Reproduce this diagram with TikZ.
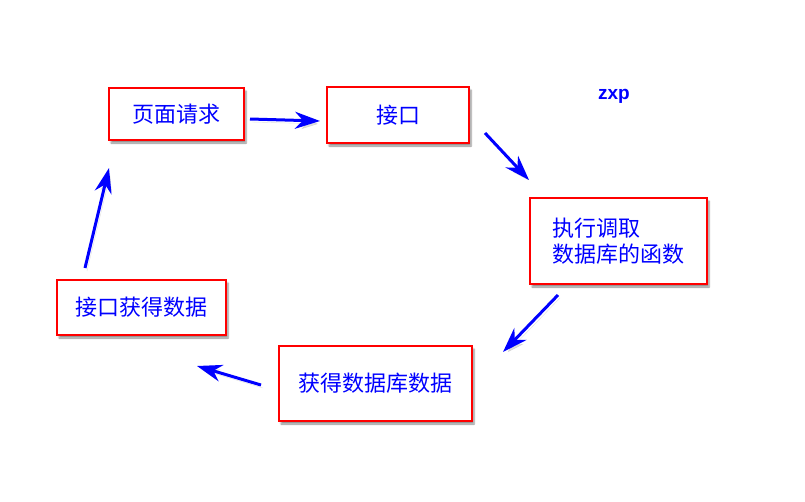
\documentclass[tikz,border=0pt]{standalone}
\usepackage{fontspec}
\setsansfont{Liberation Sans}
\newfontfamily\cjk{Noto Sans CJK SC}
\usetikzlibrary{arrows.meta,shadows.blur}

\begin{document}
\begin{tikzpicture}[x=1pt,y=-1pt,
main/.style = {draw=red, line width=2.5pt, fill=white, inner sep=0pt, text=blue,
  font=\cjk\fontsize{22}{26}\selectfont,
  blur shadow={shadow xshift=2pt, shadow yshift=-3pt, shadow blur steps=6, shadow opacity=45}},
flow/.style = {draw=blue, line width=3pt, -{Stealth[length=25pt,width=17pt,inset=8pt]},
  preaction={draw=black!50, opacity=0.25, transform canvas={shift={(2pt,-3pt)}}}}]
\useasboundingbox (0,0) rectangle (805,501);
\node[main, minimum width=135pt, minimum height=52pt] (1) at (176.5,114) {页面请求};
\node[main, minimum width=142pt, minimum height=56pt] (2) at (398,115) {接口};
\node[main, minimum width=177pt, minimum height=86pt, align=left] (3) at (618.5,241) {执行调取\\数据库的函数};
\node[main, minimum width=193pt, minimum height=75pt] (4) at (375.5,383.5) {获得数据库数据};
\node[main, minimum width=169pt, minimum height=55pt] (5) at (141.5,307.5) {接口获得数据};
\node[text=blue, font=\sffamily\bfseries\fontsize{19}{19}\selectfont] (6) at (614,96) {zxp};
% arrow ends
\coordinate (s1) at (250,119); \coordinate (e1) at (320,121);
\coordinate (s2) at (485,133); \coordinate (e2) at (529,180);
\coordinate (s3) at (558,295); \coordinate (e3) at (503,352);
\coordinate (s4) at (261,385); \coordinate (e4) at (197,366);
\coordinate (s5) at (85,268); \coordinate (e5) at (109,168);
\draw[flow] (s1) -- (e1);
\draw[flow] (s2) -- (e2);
\draw[flow] (s3) -- (e3);
\draw[flow] (s4) -- (e4);
\draw[flow] (s5) -- (e5);
\end{tikzpicture}
\end{document}
